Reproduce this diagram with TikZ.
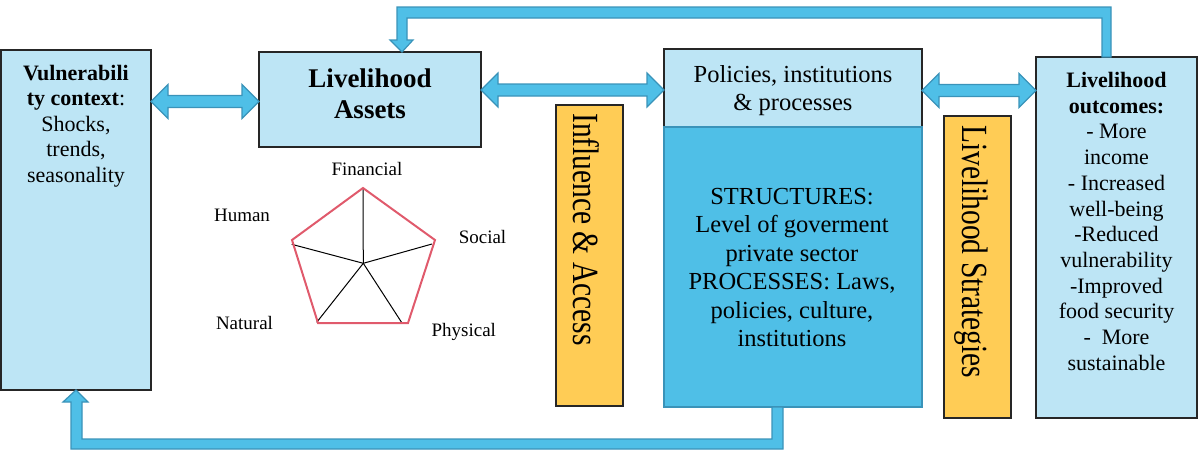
\documentclass[tikz,border=0pt]{standalone}
\usepackage{fontspec}
\setmainfont{Liberation Serif}
\usepackage{graphicx}
\usetikzlibrary{calc}
\definecolor{lblue}{HTML}{BDE5F5}
\definecolor{mblue}{HTML}{4FBFE7}
\definecolor{bdark}{HTML}{3A93B9}
\definecolor{ayellow}{HTML}{FFCC55}
\definecolor{pred}{HTML}{E05A6C}
\newcommand\dblarrow[3]{%
  \filldraw[arrowfill] let \p1=(#1), \p2=(#2), \p3=(0,#3) in
    (\x1,\y3) -- (\x1+17pt,\y3+17pt) -- (\x1+17pt,\y3+6pt) -- (\x2-17pt,\y3+6pt)
    -- (\x2-17pt,\y3+17pt) -- (\x2,\y3) -- (\x2-17pt,\y3-17pt) -- (\x2-17pt,\y3-6pt)
    -- (\x1+17pt,\y3-6pt) -- (\x1+17pt,\y3-17pt) -- cycle;}
\begin{document}
\begin{tikzpicture}[x=1pt,y=-1pt,
  box/.style={rectangle, draw=black!85, line width=1.2pt, inner sep=0pt, outer sep=0pt},
  lbox/.style={box, fill=lblue},
  ybox/.style={box, fill=ayellow},
  sbox/.style={rectangle, draw=bdark, line width=1.4pt, fill=mblue, inner sep=0pt, outer sep=0pt},
  txt/.style={inner sep=0pt, align=center, anchor=north},
  vtxt/.style={inner sep=0pt, anchor=base west, rotate=-90, font=\fontsize{29.5}{34}\selectfont},
  arrowfill/.style={fill=mblue, draw=bdark, line width=1.2pt, line join=miter},
  spoke/.style={draw=black, line width=1pt},
  lbl/.style={inner sep=0pt, anchor=base, font=\fontsize{19}{22}\selectfont}]

\useasboundingbox (0,0) rectangle (1200,450);

% boxes
\node[lbox, minimum width=150pt, minimum height=340pt] (va) at (76,220) {};
\node[lbox, minimum width=222pt, minimum height=95pt] (la) at (370,99.5) {};
\node[lbox, minimum width=258pt, minimum height=78pt] (pol) at (793,88) {};
\node[sbox, minimum width=258pt, minimum height=280pt] (str) at (793,267) {};
\node[ybox, minimum width=67pt, minimum height=301pt] (inf) at (589.5,255.5) {};
\node[ybox, minimum width=67pt, minimum height=302pt] (strat) at (977.5,267) {};
\node[lbox, minimum width=161pt, minimum height=361pt] (outc) at (1116.5,237.5) {};

% texts
\node[txt, font=\fontsize{22}{25.5}\selectfont] (vat) at (76,62.4)
  {\rule{0pt}{17.6pt}\textbf{Vulnerabili}\\\textbf{ty context}:\\Shocks,\\trends,\\seasonality};
\node[txt, font=\bfseries\fontsize{27}{31}\selectfont] (lat) at (370,65.4)
  {\rule{0pt}{21.6pt}Livelihood\\Assets};
\node[txt, font=\fontsize{24.5}{28}\selectfont] (polt) at (793,62.4)
  {\rule{0pt}{19.6pt}Policies, institutions\\\& processes};
\node[txt, font=\fontsize{24.5}{28.5}\selectfont] (strt) at (792,184.4)
  {\rule{0pt}{19.6pt}STRUCTURES:\\Level of goverment\\private sector\\PROCESSES: Laws,\\policies, culture,\\institutions};
\node[txt, font=\fontsize{22}{25.7}\selectfont] (outct) at (1116.5,69.7)
  {\rule{0pt}{17.6pt}\textbf{Livelihood}\\\textbf{outcomes:}\\- More\\income\\- Increased\\well-being\\-Reduced\\vulnerability\\-Improved\\food security\\-\ \ More\\sustainable};
\node[vtxt] (inft) at (573,113) {\scalebox{1}[1.25]{Influence \& Access}};
\node[vtxt] (stratt) at (962,125) {\scalebox{1}[1.25]{Livelihood Strategies}};

% pentagon
\coordinate (pc) at (363.3,263.3);
\draw[spoke] (pc) -- (363,188);
\draw[spoke] (pc) -- (432,244);
\draw[spoke] (pc) -- (402,323);
\draw[spoke] (pc) -- (316.7,322.3);
\draw[spoke] (pc) -- (291.7,244.3);
\draw[pred, line width=2pt, line join=miter] (363,188) -- (435,240) -- (408,323) -- (318,323) -- (292,240) -- cycle;
\node[lbl] (fin) at (367,175) {Financial};
\node[lbl] (hum) at (242,221.7) {Human};
\node[lbl] (soc) at (482.5,243) {Social};
\node[lbl] (nat) at (244.5,329) {Natural};
\node[lbl] (phy) at (463.8,336.7) {Physical};

% double arrows
\dblarrow{va.east}{la.west}{101.5}
\dblarrow{la.east}{pol.west}{90}
\dblarrow{pol.east}{outc.west}{90.5}

% top feedback connector
\filldraw[arrowfill] let \p1=(outc.north), \p2=(la.north) in
  (\x1-5.5pt,\y1) -- (\x1-5.5pt,-7pt) -- (\x2+27pt,-7pt) -- (\x2+27pt,-40pt)
  -- (\x2+20pt,-40pt) -- (\x2+32pt,\y2) -- (\x2+43pt,-40pt) -- (\x2+37pt,-40pt)
  -- (\x2+37pt,-18pt) -- (\x1-14.5pt,-18pt) -- (\x1-14.5pt,\y1) -- cycle;

% bottom feedback connector
\filldraw[arrowfill] let \p1=(str.south), \p2=(va.south) in
  (\x1-21pt,\y1) -- (\x1-21pt,-439pt) -- (\x2+6pt,-439pt) -- (\x2+6pt,-402pt)
  -- (\x2+12pt,-402pt) -- (\x2,\y2) -- (\x2-13pt,-402pt) -- (\x2-5pt,-402pt)
  -- (\x2-5pt,-449pt) -- (\x1-10pt,-449pt) -- (\x1-10pt,\y1) -- cycle;
\end{tikzpicture}
\end{document}
